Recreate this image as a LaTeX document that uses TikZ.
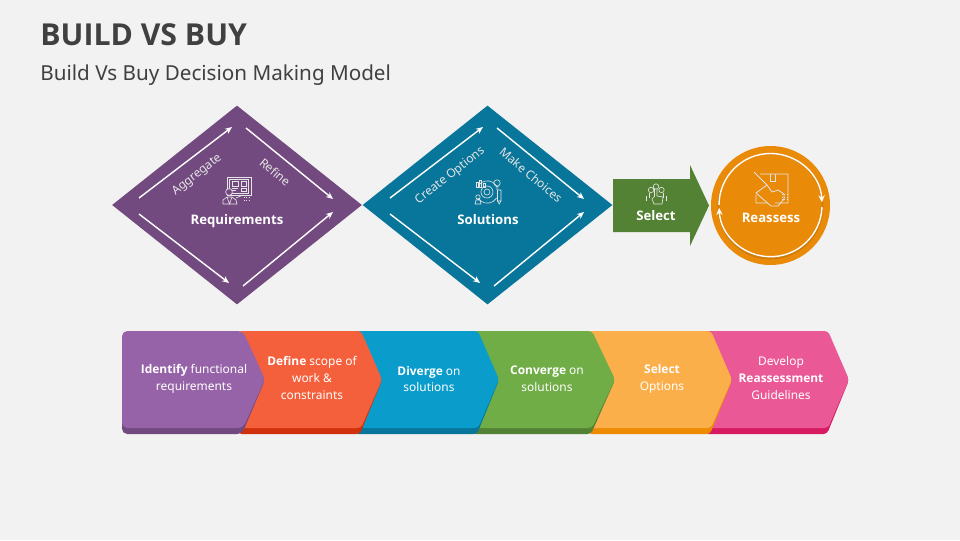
\documentclass[tikz,border=0pt]{standalone}
\usepackage{fontspec}
\setmainfont[BoldFont={Open Sans Bold}]{Noto Sans}
\usepackage{tikz}
\usetikzlibrary{arrows.meta,shapes.geometric}

\definecolor{pagegrey}{HTML}{F2F2F2}
\definecolor{titlegrey}{HTML}{404040}
\definecolor{reqpurple}{HTML}{734A80}
\definecolor{solteal}{HTML}{08769A}
\definecolor{selgreen}{HTML}{548235}
\definecolor{reaorange}{HTML}{E98A08}
\definecolor{reashade}{HTML}{CF7C08}
\definecolor{stepa}{HTML}{9763A8}
\definecolor{stepashade}{HTML}{734A80}
\definecolor{stepb}{HTML}{F4603C}
\definecolor{stepbshade}{HTML}{D0300C}
\definecolor{stepc}{HTML}{0A9DCB}
\definecolor{stepcshade}{HTML}{08769A}
\definecolor{stepd}{HTML}{70AD47}
\definecolor{stepdshade}{HTML}{548235}
\definecolor{stepe}{HTML}{FBAF4B}
\definecolor{stepeshade}{HTML}{ED8B00}
\definecolor{stepf}{HTML}{EB5896}
\definecolor{stepfshade}{HTML}{D81B60}

\tikzset{
bigdiamond/.style={diamond,draw=none,inner sep=0pt,minimum width=5cm,minimum height=3.98cm},
headtext/.style={text=white,anchor=base,inner sep=0pt,font=\fontsize{7.5}{10}\selectfont\bfseries},
slanttext/.style={text=white!90!black,font=\fontsize{6.8}{9}\selectfont},
steptext/.style={text=white,align=center,font=\fontsize{6.8}{9.6}\selectfont},
flowarrow/.style={draw=white,line width=0.8pt,-{Stealth[length=4pt,width=3.4pt]}},
ringarrow/.style={draw=white,line width=0.8pt,-{Stealth[length=4pt,width=3.6pt]}},
iconline/.style={draw=white!90!black,line width=0.35pt},
}

\begin{document}
\begin{tikzpicture}[x=0.2mm,y=-0.2mm]
\useasboundingbox (0,0) rectangle (960,540);
\fill[pagegrey] (0,0) rectangle (960,540);

\node[anchor=base west,text=titlegrey,inner sep=0pt,font=\fontsize{17.2}{20}\selectfont\bfseries] (title) at (40,45) {BUILD VS BUY};
\node[anchor=base west,text=titlegrey,inner sep=0pt,font=\fontsize{11.75}{14}\selectfont] (subtitle) at (40,80.5) {Build Vs Buy Decision Making Model};

% the two diamonds
\node[bigdiamond,fill=reqpurple] (reqshape) at (237,205) {};
\node[bigdiamond,fill=solteal] (solshape) at (487.5,205) {};

\node[headtext] (reqtext) at (237,224) {Requirements};
\node[headtext] (soltext) at (488,224) {Solutions};
\node[slanttext,rotate=38] (aggregate) at (197,175) {Aggregate};
\node[slanttext,rotate=-40] (refine) at (275,172) {Refine};
\node[slanttext,rotate=38] (options) at (450,176) {Create Options};
\node[slanttext,rotate=-40] (choices) at (531,175) {Make Choices};

\coordinate (ra1) at (139,198);
\coordinate (ra2) at (232,127);
\coordinate (rb1) at (246,128);
\coordinate (rb2) at (333,199);
\coordinate (rc1) at (139,214);
\coordinate (rc2) at (229,283);
\coordinate (rd1) at (243,286);
\coordinate (rd2) at (333,212);
\coordinate (sa1) at (390,198);
\coordinate (sa2) at (483,127);
\coordinate (sb1) at (497,128);
\coordinate (sb2) at (584,199);
\coordinate (sc1) at (390,214);
\coordinate (sc2) at (480,283);
\coordinate (sd1) at (494,286);
\coordinate (sd2) at (584,212);
\draw[flowarrow] (ra1) -- (ra2);
\draw[flowarrow] (rb1) -- (rb2);
\draw[flowarrow] (rc1) -- (rc2);
\draw[flowarrow] (rd1) -- (rd2);
\draw[flowarrow] (sa1) -- (sa2);
\draw[flowarrow] (sb1) -- (sb2);
\draw[flowarrow] (sc1) -- (sc2);
\draw[flowarrow] (sd1) -- (sd2);

% requirements icon
\draw[iconline] (227,177) rectangle (251,195);
\draw[iconline] (229.5,179) rectangle (248.5,193);
\draw[iconline] (232,181) rectangle (238,186);
\draw[iconline] (241,181) rectangle (246,186);
\draw[iconline] (241,188) rectangle (246,191);
\draw[iconline] (232,188) -- (238,188) (232,190) -- (236,190);
\draw[iconline,fill=reqpurple] (229,192) circle (3.4);
\draw[iconline,fill=reqpurple] (223,204) -- (223,200) -- (227,197) -- (232,197) -- (236,200) -- (237,204) -- cycle;
\draw[iconline] (227,197) -- (229.5,204) -- (232,197) (236,198) -- (243,195);
\draw[iconline,densely dotted] (244,197.5) -- (249,197.5) (244,200) -- (249,200);

% solutions icon
\draw[iconline] (487,192) circle (3) (487,192) circle (6);
\draw[iconline] (478,186) arc[start angle=212,end angle=328,radius=11];
\draw[iconline] (478,198) arc[start angle=148,end angle=32,radius=11];
\draw[iconline] (476,187) rectangle (478,182) (479.5,187) rectangle (481.5,180) (483,187) rectangle (485,183);
\draw[iconline] (497,183) circle (3.2) (495.5,187) -- (498.5,187) (496,189) -- (498,189);
\draw[iconline] (497.5,190) rectangle (501,201) (497.5,201) -- (499.2,204) -- (501,201);
\draw[iconline] (478,197) circle (2.2) (475,204) -- (476,200) -- (480,200) -- (481,204) -- cycle;

% the select arrow
\fill[selgreen] (613,179) -- (690,179) -- (690,165) -- (709,205.5) -- (690,246) -- (690,232) -- (613,232) -- cycle;
\node[headtext] (seltext) at (656,220) {Select};

% select icon
\draw[iconline] (651,190) circle (2.7) (656,186.5) circle (2.7) (661.5,190) circle (2.7);
\draw[iconline] (649,192.5) -- (649,198) (663,192.5) -- (663,198) (654,189) -- (654,197);
\draw[iconline] (654,197) -- (652,199) -- (654,204) -- (662,204) -- (663,197) -- (657,196) -- (657,189);
\draw[iconline] (646,196) -- (646,201) (666,196) -- (666,201);

% reassess circle
\node[circle,fill=reaorange,inner sep=0pt,minimum size=2.38cm] (reaouter) at (770.5,205.5) {};
\node[circle,fill=reashade,inner sep=0pt,minimum size=2.12cm] (reashadow) at (770.5,206.5) {};
\node[circle,fill=reaorange,inner sep=0pt,minimum size=2.04cm] (reainner) at (770.5,205.5) {};
\coordinate (rl) at (719,205);
\coordinate (rr) at (822,207);
\draw[ringarrow] (rl) arc[start angle=180,end angle=357,radius=51.5];
\draw[ringarrow] (rr) arc[start angle=2,end angle=177,radius=51.5];
\node[headtext] (reatext) at (771,222) {Reassess};

% reassess icon
\draw[iconline,line width=0.45pt] (754,172) -- (767,185) (760,174) -- (788,174) -- (788,203) -- (775,203) (756,195) -- (756,203) -- (767,203);
\draw[iconline,line width=0.45pt] (770,174) -- (770,181) -- (775,181) -- (775,174);
\draw[iconline,line width=0.45pt] (767,185) -- (756,193) -- (771,206) -- (778,206) -- (784,199) -- (784,194) -- (778,190) -- (772,192) -- (767,185);
\draw[iconline,densely dotted] (782,194.5) -- (787,194.5) (782,197) -- (787,197) (782,199.5) -- (787,199.5);

% the step band, last one first so that each tip lies over the next step
\fill[stepfshade,rounded corners=2pt] (705,337) -- (828,337) -- (849,380) -- (827,434) -- (705,434) -- (730,385.5) -- cycle;
\fill[stepf,rounded corners=2pt] (705,331) -- (828,331) -- (849,379.5) -- (828,428) -- (705,428) -- (730,379.5) -- cycle;
\fill[stepeshade,rounded corners=2pt] (588,337) -- (711,337) -- (732,380) -- (710,434) -- (588,434) -- (610,385.5) -- cycle;
\fill[stepe,rounded corners=2pt] (588,331) -- (711,331) -- (732,379.5) -- (711,428) -- (588,428) -- (610,379.5) -- cycle;
\fill[stepdshade,rounded corners=2pt] (472,337) -- (592,337) -- (615,380) -- (591,434) -- (472,434) -- (495,385.5) -- cycle;
\fill[stepd,rounded corners=2pt] (472,331) -- (592,331) -- (615,379.5) -- (592,428) -- (472,428) -- (495,379.5) -- cycle;
\fill[stepcshade,rounded corners=2pt] (355,337) -- (478,337) -- (499,380) -- (477,434) -- (355,434) -- (378,385.5) -- cycle;
\fill[stepc,rounded corners=2pt] (355,331) -- (478,331) -- (499,379.5) -- (478,428) -- (355,428) -- (378,379.5) -- cycle;
\fill[stepbshade,rounded corners=2pt] (238,337) -- (361,337) -- (382,380) -- (360,434) -- (238,434) -- (260,385.5) -- cycle;
\fill[stepb,rounded corners=2pt] (238,331) -- (361,331) -- (382,379.5) -- (361,428) -- (238,428) -- (260,379.5) -- cycle;
\fill[stepashade,rounded corners=3pt] (122,337) -- (243,337) -- (265,380) -- (242,434) -- (122,434) -- cycle;
\fill[stepa,rounded corners=3pt] (122,331) -- (243,331) -- (265,379.5) -- (243,428) -- (122,428) -- cycle;

\node[steptext] (identify) at (194,379) {\textbf{Identify} functional\\requirements};
\node[steptext] (define) at (312,378) {\textbf{Define} scope of\\work \&\\constraints};
\node[steptext] (diverge) at (429,379) {\textbf{Diverge} on\\solutions};
\node[steptext] (converge) at (547,379) {\textbf{Converge} on\\solutions};
\node[steptext] (selectopt) at (662,379) {\textbf{Select}\\Options};
\node[steptext] (develop) at (781,378) {Develop\\\textbf{Reassessment}\\Guidelines};
\end{tikzpicture}
\end{document}
